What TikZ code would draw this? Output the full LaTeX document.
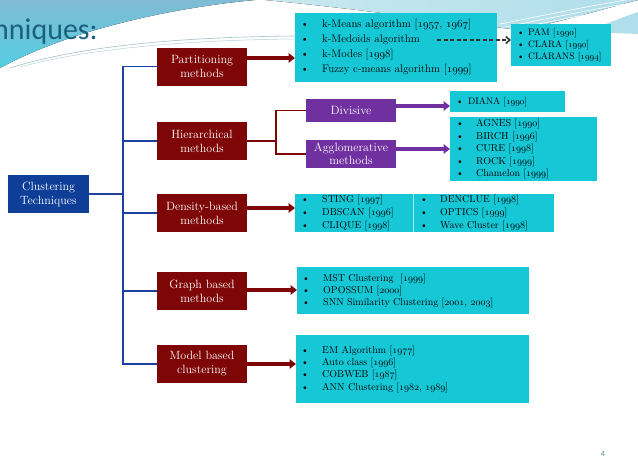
\documentclass[tikz,border=0pt]{standalone}
\usepackage{fontspec}
\newfontfamily\titlefont{Carlito}
\usetikzlibrary{arrows.meta}
\definecolor{cblue}{RGB}{14,62,152}
\definecolor{lblue}{RGB}{30,64,160}
\definecolor{dred}{RGB}{126,6,6}
\definecolor{purp}{RGB}{112,48,160}
\definecolor{cyanb}{RGB}{22,200,214}
\definecolor{ttl}{RGB}{28,96,126}
\definecolor{bgtop}{RGB}{128,188,212}
\definecolor{bgbot}{RGB}{84,206,226}
\definecolor{bglight}{RGB}{176,222,234}
\newcommand{\os}[1]{{\usefont{OML}{cmm}{m}{it}#1}}
\newcommand{\bl}[2]{\makebox[#1][l]{\textbullet}#2}
\tikzset{
  catbox/.style={fill=dred, text=white, minimum width=90pt, minimum height=38pt, align=center, inner sep=0pt, font=\fontsize{12}{14}\selectfont},
  purpbox/.style={fill=purp, text=white, minimum width=90pt, align=center, inner sep=0pt, font=\fontsize{12}{13.5}\selectfont},
  listbox/.style={fill=cyanb, anchor=north west, inner ysep=0pt, align=left},
  bluel/.style={draw=lblue, line width=1.5pt},
  redl/.style={draw=dred, line width=1.5pt},
  rarrow/.style={draw=dred, line width=3.3pt, -{Triangle[length=6.5pt,width=9.5pt]}},
  parrow/.style={draw=purp, line width=3.5pt, -{Triangle[length=6.5pt,width=9.5pt]}},
  darrow/.style={draw=black!80, line width=1.6pt, dash pattern=on 4pt off 2.5pt, -{Straight Barb[length=4pt,width=7pt]}}
}
\begin{document}
\begin{tikzpicture}[x=1pt,y=-1pt]
\useasboundingbox (0,0) rectangle (638,467);
\fill[white] (0,0) rectangle (638,467);
% background swoosh
\begin{scope}
\clip (0,0) rectangle (638,467);
\fill[top color=bgtop, bottom color=bgbot] (0,0) -- (255,0) .. controls (170,8) and (70,30) .. (0,68) -- cycle;
\fill[left color=bglight!70!white, right color=bglight] (265,0) -- (638,0) .. controls (600,10) and (560,22) .. (520,30) .. controls (450,22) and (350,8) .. (265,0) -- cycle;
\fill[bglight] (638,12) .. controls (615,20) and (600,26) .. (590,32) -- (638,34) -- cycle;
\draw[ttl!40, line width=0.6pt] (10,68) .. controls (80,46) and (180,37) .. (295,36);
\draw[ttl!30, line width=0.5pt] (20,67) .. controls (90,48) and (190,40) .. (295,39);
\draw[white, line width=0.6pt] (500,24) .. controls (560,12) and (600,4) .. (638,-2);
\draw[white, line width=0.6pt] (505,27) .. controls (565,15) and (605,7) .. (638,2);
\draw[white, line width=0.6pt] (512,29) .. controls (570,18) and (608,10) .. (638,6);
\node[font=\titlefont\fontsize{30}{30}\selectfont, text=ttl, anchor=base east, inner sep=0pt] (title) at (98,39) {Clustering Techniques:};
\end{scope}

% category boxes
\node[fill=cblue, text=white, minimum width=81pt, minimum height=38pt, align=center, inner sep=0pt, font=\fontsize{12}{14}\selectfont] (ct) at (48.5,194) {Clustering\\Techniques};
\node[catbox] (part) at (202,66.5) {Partitioning\\methods};
\node[catbox] (hier) at (202,141) {Hierarchical\\methods};
\node[catbox] (dens) at (202,213) {Density-based\\methods};
\node[catbox] (graph) at (202,291) {Graph based\\methods};
\node[catbox] (model) at (202,364) {Model based\\clustering};
\node[purpbox, minimum height=23pt] (div) at (351,110.5) {Divisive};
\node[purpbox, minimum height=28pt] (agg) at (351,154) {Agglomerative\\methods};

% list boxes
\node[listbox, minimum width=202pt, minimum height=69pt, inner xsep=5.5pt, text width=191pt, font=\fontsize{11}{15}\selectfont] (km) at (295,13)
 {\bl{21.5pt}{k-Means algorithm [\os{1957}, \os{1967}]}\\
  \bl{21.5pt}{k-Medoids algorithm}\\
  \bl{21.5pt}{k-Modes [\os{1998}]}\\
  \bl{21.5pt}{Fuzzy c-means algorithm [\os{1999}]}};
\node[listbox, minimum width=100pt, minimum height=42pt, inner xsep=6pt, text width=88pt, font=\fontsize{9.5}{12}\selectfont] (pam) at (511,24)
 {\bl{11pt}{PAM [\os{1990}]}\\
  \bl{11pt}{CLARA [\os{1990}]}\\
  \bl{11pt}{CLARANS [\os{1994}]}};
\node[listbox, minimum width=115pt, minimum height=21pt, inner xsep=6pt, text width=103pt, font=\fontsize{9.5}{12}\selectfont] (diana) at (450,91)
 {\bl{12pt}{DIANA [\os{1990}]}};
\node[listbox, minimum width=147pt, minimum height=64pt, inner xsep=6pt, text width=135pt, font=\fontsize{10}{12.6}\selectfont] (agnes) at (450,117)
 {\bl{20pt}{AGNES [\os{1990}]}\\
  \bl{20pt}{BIRCH [\os{1996}]}\\
  \bl{20pt}{CURE [\os{1998}]}\\
  \bl{20pt}{ROCK [\os{1999}]}\\
  \bl{20pt}{Chamelon [\os{1999}]}};
\node[listbox, minimum width=259pt, minimum height=38pt, inner xsep=6pt, text width=247pt, font=\fontsize{10}{13}\selectfont] (densl) at (295,194)
 {\makebox[119pt][l]{\bl{21pt}{STING [\os{1997}]}}\bl{20pt}{DENCLUE [\os{1998}]}\\
  \makebox[119pt][l]{\bl{21pt}{DBSCAN [\os{1996}]}}\bl{20pt}{OPTICS [\os{1999}]}\\
  \makebox[119pt][l]{\bl{21pt}{CLIQUE [\os{1998}]}}\bl{20pt}{Wave Cluster [\os{1998}]}};
\draw[white!60!cyanb, line width=0.6pt] ([xshift=118pt]densl.north west) -- ([xshift=118pt]densl.south west);
\node[listbox, minimum width=232pt, minimum height=47pt, inner xsep=5pt, text width=222pt, font=\fontsize{10}{12}\selectfont] (graphl) at (297,267)
 {\bl{21pt}{MST Clustering~ [\os{1999}]}\\
  \bl{21pt}{OPOSSUM [\os{2000}]}\\
  \bl{21pt}{SNN Similarity Clustering [\os{2001}, \os{2003}]}};
\node[listbox, minimum width=233pt, minimum height=68pt, inner xsep=5pt, text width=223pt, font=\fontsize{10}{12.3}\selectfont] (modell) at (296,335)
 {\bl{21pt}{EM Algorithm [\os{1977}]}\\
  \bl{21pt}{Auto class [\os{1996}]}\\
  \bl{21pt}{COBWEB [\os{1987}]}\\
  \bl{21pt}{ANN Clustering [\os{1982}, \os{1989}]}};

% blue tree
\coordinate (tTop) at (123,66.5);
\coordinate (tBot) at (123,364);
\draw[bluel] (part.west) -- (tTop) -- (tBot) -- (model.west);
\draw[bluel] (ct.east) -- (ct.east -| tTop);
\draw[bluel] (hier.west -| tTop) -- (hier.west);
\draw[bluel] (dens.west -| tTop) -- (dens.west);
\draw[bluel] (graph.west -| tTop) -- (graph.west);

% red arrows
\path ([yshift=8.5pt]part.east) coordinate (pa);
\draw[rarrow] (pa) -- (pa -| km.west);
\path ([yshift=5pt]dens.east) coordinate (da);
\draw[rarrow] (da) -- (da -| densl.west);
\path ([yshift=1pt]graph.east) coordinate (ga);
\draw[rarrow] (ga) -- (ga -| graphl.west);
\draw[rarrow] (model.east) -- (model.east -| modell.west);

% hierarchical split
\draw[redl] (hier.east) -- ++(29,0) coordinate (hj);
\draw[redl] (div.west) -| (hj) |- (agg.west);

% purple arrows
\path ([yshift=4.5pt]div.east) coordinate (dva);
\draw[parrow] (dva) -- (dva -| diana.west);
\path ([yshift=5pt]agg.east) coordinate (aga);
\draw[parrow] (aga) -- (aga -| agnes.west);

% dashed arrow
\coordinate (kmed) at (437,40);
\draw[darrow] (kmed) -- (kmed -| pam.west);

\node[font=\titlefont\fontsize{8}{8}\selectfont, text=ttl!70] (pg) at (603,454) {4};
\end{tikzpicture}
\end{document}
